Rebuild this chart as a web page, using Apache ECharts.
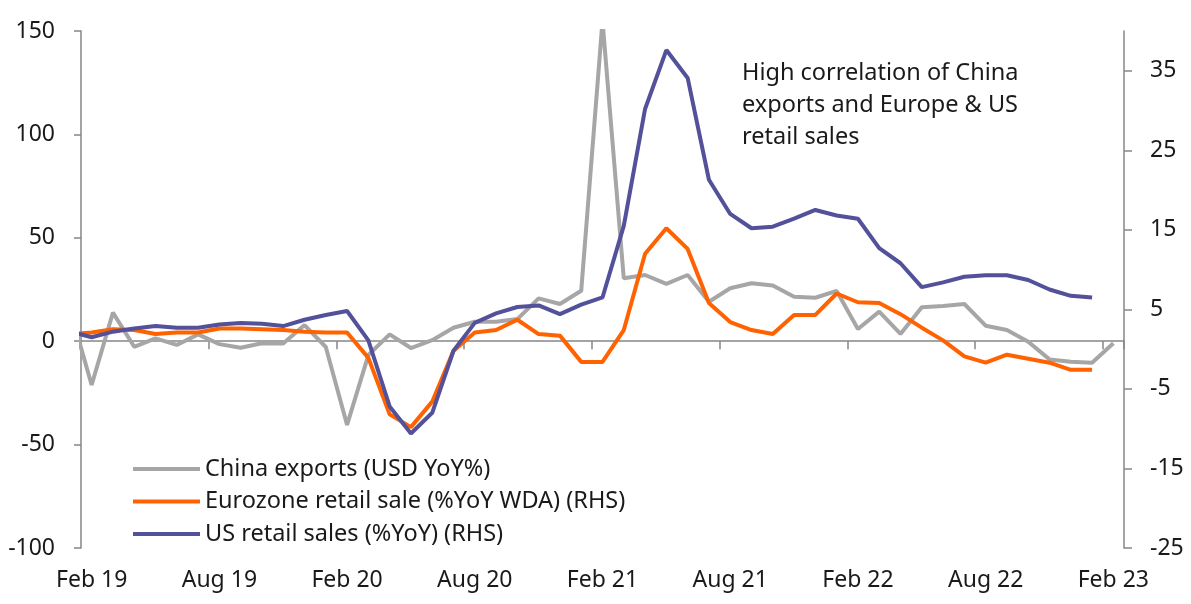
<!DOCTYPE html>
<html>
<head>
<meta charset="utf-8">
<script src="https://cdn.jsdelivr.net/npm/echarts@6/dist/echarts.min.js"></script>
<style>
  html, body { margin: 0; padding: 0; background: #fff; }
  #chart { width: 1191px; height: 604px; }
</style>
</head>
<body>
<div id="chart"></div>
<script>
  // months from Jan 19 (first point sits just outside the plot and is clipped) to Feb 23
  const months = ['Jan 19', 'Feb 19', 'Mar 19', 'Apr 19', 'May 19', 'Jun 19', 'Jul 19', 'Aug 19', 'Sep 19', 'Oct 19', 'Nov 19', 'Dec 19',
    'Jan 20', 'Feb 20', 'Mar 20', 'Apr 20', 'May 20', 'Jun 20', 'Jul 20', 'Aug 20', 'Sep 20', 'Oct 20', 'Nov 20', 'Dec 20',
    'Jan 21', 'Feb 21', 'Mar 21', 'Apr 21', 'May 21', 'Jun 21', 'Jul 21', 'Aug 21', 'Sep 21', 'Oct 21', 'Nov 21', 'Dec 21',
    'Jan 22', 'Feb 22', 'Mar 22', 'Apr 22', 'May 22', 'Jun 22', 'Jul 22', 'Aug 22', 'Sep 22', 'Oct 22', 'Nov 22', 'Dec 22',
    'Jan 23', 'Feb 23'];

  const chinaExports = [15, -21.2, 13.8, -2.7, 1.4, -1.8, 3.3, -1.4, -3.2, -1, -1.1, 7.8,
    -2.8, -40.5, -6.7, 3.3, -3.3, 0.5, 6.5, 9.4, 9.4, 10.7, 20.7, 18,
    24.4, 154.9, 30.4, 32, 27.7, 32, 19.1, 25.6, 28, 26.9, 21.5, 21,
    24.3, 5.9, 14.3, 3.5, 16.4, 17, 18, 7.5, 5.4, -0.3, -8.8, -9.9,
    -10.4, -1];

  const euroRetail = [1.9, 2.1, 2.5, 2.4, 1.9, 2.1, 2.1, 2.6, 2.6, 2.5, 2.4, 2.2,
    2.1, 2.1, -1.1, -8.2, -9.8, -6.6, -0.2, 2.1, 2.4, 3.7, 1.9, 1.7,
    -1.6, -1.6, 2.4, 12.0, 15.2, 12.6, 5.8, 3.4, 2.4, 1.9, 4.3, 4.3,
    7.0, 5.9, 5.8, 4.4, 2.7, 1.1, -0.9, -1.7, -0.7, -1.2, -1.7, -2.6,
    -2.6, null];

  const usRetail = [2.2, 1.5, 2.2, 2.6, 2.9, 2.7, 2.7, 3.1, 3.3, 3.2, 2.9, 3.7,
    4.3, 4.8, 1.1, -7.2, -10.6, -8.0, -0.2, 3.3, 4.5, 5.3, 5.5, 4.4,
    5.6, 6.5, 15.5, 30.2, 37.6, 34.1, 21.3, 17.0, 15.2, 15.4, 16.4, 17.5,
    16.8, 16.4, 12.7, 10.8, 7.8, 8.4, 9.1, 9.3, 9.3, 8.7, 7.5, 6.7,
    6.5, null];

  const leftTicks = [-100, -50, 0, 50, 100, 150];
  const rightTicks = [-25, -15, -5, 5, 15, 25, 35];

  const categories = months.slice(1);
  // position on the hidden value axis: Feb 19 = 0
  function toPoints(values) {
    return values.map((v, i) => [i - 1, v]).filter(p => p[1] !== null);
  }

  const axisColor = '#868686';
  const textColor = '#1a1a1a';
  const font = 'Noto Sans';

  let option = {
    animation: false,
    textStyle: { fontFamily: font },
    grid: { left: 81, right: 67, top: 31, bottom: 56, containLabel: false },
    legend: {
      orient: 'vertical',
      left: 133,
      top: 457,
      padding: 0,
      icon: 'rect',
      itemWidth: 67,
      itemHeight: 4,
      itemGap: 8.5,
      textStyle: { fontSize: 23.5, lineHeight: 24, color: textColor, fontFamily: font },
      data: ['China exports (USD YoY%)', 'Eurozone retail sale (%YoY WDA) (RHS)', 'US retail sales (%YoY) (RHS)'],
    },
    graphic: [
      {
        type: 'text',
        left: 742,
        top: 57,
        style: {
          text: 'High correlation of China\nexports and Europe & US\nretail sales',
          font: '23.5px "Noto Sans"',
          lineHeight: 32,
          fill: textColor,
        },
      },
    ],
    xAxis: [
      {
        type: 'category',
        position: 'bottom',
        data: categories,
        boundaryGap: true,
        axisLine: { show: true, onZero: true, onZeroAxisIndex: 0, lineStyle: { color: axisColor, width: 1.5 } },
        axisTick: { show: true, interval: 5, length: 8, lineStyle: { color: axisColor, width: 1.5 } },
        axisLabel: { show: false },
        splitLine: { show: false },
      },
      {
        type: 'category',
        position: 'bottom',
        data: categories,
        boundaryGap: true,
        axisLine: { show: false, onZero: false },
        axisTick: { show: false },
        axisLabel: { show: true, interval: 5, margin: 21, fontSize: 23, color: textColor, fontFamily: font },
        splitLine: { show: false },
      },
      {
        type: 'value',
        position: 'bottom',
        min: -0.5,
        max: 48.5,
        show: false,
        axisLine: { onZero: false },
        splitLine: { show: false },
      },
    ],
    yAxis: [
      {
        type: 'value',
        position: 'left',
        min: -100,
        max: 150,
        interval: 50,
        axisLine: { show: true, onZero: false, lineStyle: { color: axisColor, width: 1.5 } },
        axisTick: { show: true, length: 7, customValues: leftTicks, lineStyle: { color: axisColor, width: 1.5 } },
        axisLabel: { margin: 26, fontSize: 23, color: textColor, fontFamily: font, customValues: leftTicks },
        splitLine: { show: false },
      },
      {
        type: 'value',
        position: 'right',
        min: -25,
        max: 40,
        interval: 5,
        axisLine: { show: true, onZero: false, lineStyle: { color: axisColor, width: 1.5 } },
        axisTick: { show: true, length: 8, customValues: rightTicks, lineStyle: { color: axisColor, width: 1.5 } },
        axisLabel: { margin: 26, fontSize: 23, color: textColor, fontFamily: font, customValues: rightTicks },
        splitLine: { show: false },
      },
    ],
    series: [
      {
        name: 'China exports (USD YoY%)',
        type: 'line',
        xAxisIndex: 2,
        yAxisIndex: 0,
        showSymbol: false,
        symbol: 'none',
        clip: true,
        color: '#a6a6a6',
        lineStyle: { width: 4, color: '#a6a6a6' },
        data: toPoints(chinaExports),
      },
      {
        name: 'Eurozone retail sale (%YoY WDA) (RHS)',
        type: 'line',
        xAxisIndex: 2,
        yAxisIndex: 1,
        showSymbol: false,
        symbol: 'none',
        clip: true,
        color: '#ff6200',
        lineStyle: { width: 4, color: '#ff6200' },
        data: toPoints(euroRetail),
      },
      {
        name: 'US retail sales (%YoY) (RHS)',
        type: 'line',
        xAxisIndex: 2,
        yAxisIndex: 1,
        showSymbol: false,
        symbol: 'none',
        clip: true,
        color: '#525199',
        lineStyle: { width: 4, color: '#525199' },
        data: toPoints(usRetail),
      },
    ],
  };

  let chartDom = document.getElementById('chart');
  if (chartDom) {
    let myChart = echarts.init(chartDom);
    option && myChart.setOption(option);
  }
</script>
</body>
</html>
